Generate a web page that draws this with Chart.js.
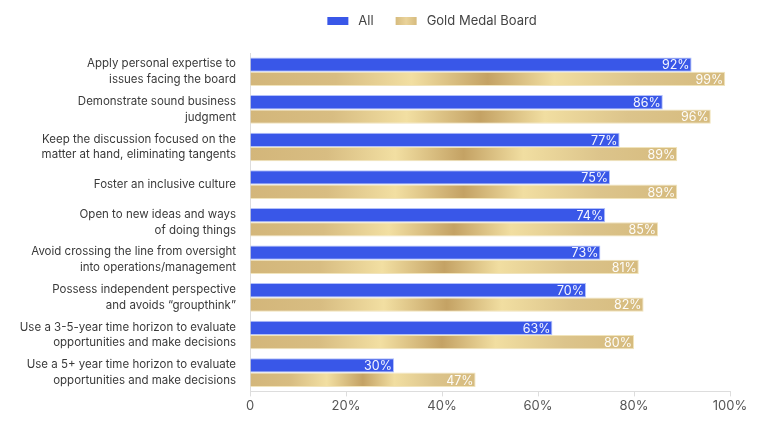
<!DOCTYPE html>
<html>
<head>
<meta charset="utf-8">
<script src="https://cdn.jsdelivr.net/npm/chart.js@4"></script>
<style>
  html, body { margin: 0; padding: 0; background: #fff; }
  #wrap { width: 768px; height: 429px; }
</style>
</head>
<body>
<div id="wrap"><canvas id="chart" width="768" height="429"></canvas></div>
<script>
const categories = [
  ["Apply personal expertise to", "issues facing the board"],
  ["Demonstrate sound business", "judgment"],
  ["Keep the discussion focused on the", "matter at hand, eliminating tangents"],
  ["Foster an inclusive culture"],
  ["Open to new ideas and ways", "of doing things"],
  ["Avoid crossing the line from oversight", "into operations/management"],
  ["Possess independent perspective", "and avoids \u201cgroupthink\u201d"],
  ["Use a 3-5-year time horizon to evaluate", "opportunities and make decisions"],
  ["Use a 5+ year time horizon to evaluate", "opportunities and make decisions"]
];
const allValues = [92, 86, 77, 75, 74, 73, 70, 63, 30];
const goldValues = [99, 96, 89, 89, 85, 81, 82, 80, 47];
const xTicks = [0, 20, 40, 60, 80, 100];

const BLUE = '#3957e8';
const GOLD = '#d6bb7e';
const FONT = 'Inter, "Noto Sans", sans-serif';

// gold gradient stretched over each bar
function goldFill(ctx) {
  const chart = ctx.chart;
  const xs = chart.scales.x;
  if (ctx.type !== 'data' || !xs || xs.width == null) return GOLD;
  const x0 = xs.getPixelForValue(0);
  const x1 = xs.getPixelForValue(ctx.raw);
  if (!isFinite(x0) || !isFinite(x1) || x1 <= x0) return GOLD;
  const g = chart.ctx.createLinearGradient(x0, 0, x1, 0);
  g.addColorStop(0, '#d3b67a');
  g.addColorStop(0.18, '#d8bd82');
  g.addColorStop(0.34, '#f2dfa2');
  g.addColorStop(0.50, '#c4a264');
  g.addColorStop(0.64, '#f1dea1');
  g.addColorStop(0.82, '#dcc48b');
  g.addColorStop(1, '#d6bb7e');
  return g;
}

// value labels inside bar ends
const valueLabels = {
  id: 'valueLabels',
  afterDatasetsDraw(chart) {
    const c = chart.ctx;
    c.save();
    c.font = '12.5px ' + FONT;
    c.fillStyle = 'rgba(255,255,255,0.95)';
    c.textAlign = 'right';
    c.textBaseline = 'middle';
    chart.data.datasets.forEach((ds, di) => {
      chart.getDatasetMeta(di).data.forEach((el, i) => {
        c.fillText(ds.data[i] + '%', el.x - 2, el.y + 1);
      });
    });
    c.restore();
  }
};

// legend drawn by hand so it sits where the original one does
const topLegend = {
  id: 'topLegend',
  afterDraw(chart) {
    const c = chart.ctx;
    c.save();
    c.font = '13px ' + FONT;
    c.textBaseline = 'middle';
    const items = chart.data.datasets.map((ds, i) => ({
      text: ds.label, color: i === 0 ? BLUE : null, w: 20 + 11 + c.measureText(ds.label).width
    }));
    const gap = 22;
    const total = items.reduce((s, it) => s + it.w, 0) + gap * (items.length - 1);
    let x = 432 - total / 2;
    const y = 21;
    items.forEach(it => {
      if (it.color) {
        c.fillStyle = it.color;
      } else {
        const g = c.createLinearGradient(x, 0, x + 21, 0);
        g.addColorStop(0, '#d6bb7e');
        g.addColorStop(0.5, '#ead39a');
        g.addColorStop(1, '#d6bb7e');
        c.fillStyle = g;
      }
      c.fillRect(x, y - 4, 21, 8);
      c.fillStyle = '#444';
      c.fillText(it.text, x + 31, y);
      x += it.w + gap;
    });
    c.restore();
  }
};

new Chart(document.getElementById('chart'), {
  type: 'bar',
  data: {
    labels: categories,
    datasets: [
      {
        label: 'All',
        data: allValues,
        backgroundColor: BLUE,
        borderColor: 'rgba(170,185,250,0.9)',
        borderWidth: 1,
        barPercentage: 1,
        categoryPercentage: 0.76
      },
      {
        label: 'Gold Medal Board',
        data: goldValues,
        backgroundColor: goldFill,
        borderColor: 'rgba(240,225,180,0.9)',
        borderWidth: 1,
        barPercentage: 1,
        categoryPercentage: 0.76
      }
    ]
  },
  options: {
    indexAxis: 'y',
    responsive: false,
    animation: false,
    devicePixelRatio: 1,
    layout: { padding: { left: 0, right: 38, top: 53, bottom: 13 } },
    plugins: {
      legend: { display: false },
      tooltip: { enabled: false }
    },
    scales: {
      x: {
        min: 0,
        max: 100,
        afterBuildTicks: axis => { axis.ticks = xTicks.map(v => ({ value: v })); },
        grid: { drawOnChartArea: false, drawTicks: true, tickLength: 5, color: '#ddd' },
        border: { color: '#ddd' },
        ticks: {
          color: '#555',
          font: { family: FONT, size: 13 },
          padding: 2,
          callback: v => v === 0 ? '0' : v + '%'
        }
      },
      y: {
        afterFit: axis => { axis.width = 250; },
        grid: { display: false },
        border: { color: '#ddd' },
        ticks: {
          color: '#3a3a3a',
          padding: 6,
          font: { family: FONT, size: 11.5, lineHeight: 1.38 }
        }
      }
    }
  },
  plugins: [valueLabels, topLegend]
});
</script>
</body>
</html>
